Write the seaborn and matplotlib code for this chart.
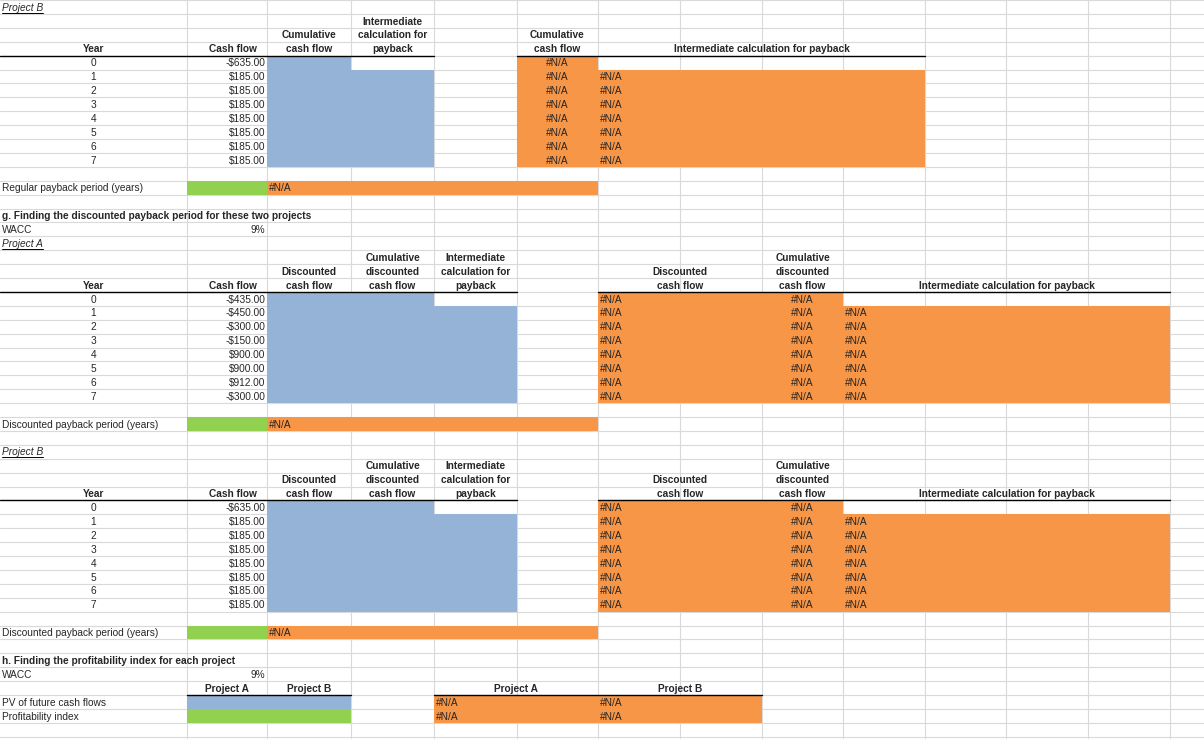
import matplotlib
matplotlib.use("Agg")
import matplotlib.pyplot as plt
from matplotlib.patches import Rectangle
import seaborn as sns

sns.set_theme(style="white")
plt.rcParams['font.family'] = ['Liberation Sans', 'DejaVu Sans']

years = [0, 1, 2, 3, 4, 5, 6, 7]
cf_b = ["-$635.00", "$185.00", "$185.00", "$185.00", "$185.00", "$185.00", "$185.00", "$185.00"]
cf_a = ["-$435.00", "-$450.00", "-$300.00", "-$150.00", "$900.00", "$900.00", "$912.00", "-$300.00"]
wacc = "9%"
na = "#N/A"

COLS = [0, 187, 267, 351, 434, 517, 598, 680, 762, 843, 925, 1006, 1088, 1170, 1204]
RH = 13.9
BLUE, ORANGE, GREEN = "#95B3D7", "#F79646", "#92D050"
FS = 7.3

fig = plt.figure(figsize=(12.04, 7.39), dpi=100)
ax = fig.add_axes([0, 0, 1, 1])
ax.set_xlim(0, 1204); ax.set_ylim(739, 0); ax.axis("off")

# grid
for x in COLS[1:-1]:
    ax.plot([x, x], [0, 739], color="#D9D9D9", lw=0.8, zorder=0)
r = 0
while r * RH < 739:
    ax.plot([0, 1204], [r * RH, r * RH], color="#D9D9D9", lw=0.8, zorder=0)
    r += 1

def fill(c0, c1, r0, r1, color):
    ax.add_patch(Rectangle((COLS[c0], r0 * RH), COLS[c1] - COLS[c0], (r1 - r0) * RH,
                           color=color, lw=0, zorder=1))

def txt(x, row, s, ha="left", bold=False, italic=False, underline=False):
    y = row * RH + RH * 0.55
    t = ax.text(x, y, s, ha=ha, va="center", fontsize=FS,
                fontweight="bold" if bold else "normal",
                fontstyle="italic" if italic else "normal", zorder=3)
    if underline:
        w = len(s) * 4.6
        ax.plot([x, x + w], [y + 5, y + 5], color="black", lw=0.7, zorder=3)

def cx(c0, c1):
    return (COLS[c0] + COLS[c1]) / 2

def hline(x0, x1, row):
    ax.plot([x0, x1], [row * RH, row * RH], color="black", lw=1.0, zorder=3)

def header(col0, col1, lines, lastrow):
    for i, s in enumerate(reversed(lines)):
        txt(cx(col0, col1), lastrow - i, s, ha="center", bold=True)

# ---- top Project B ----
txt(2, 0, "Project B", italic=True, underline=True)
header(0, 1, ["Year"], 3)
txt(COLS[2] - 10, 3, "Cash flow", ha="right", bold=True)
header(2, 3, ["Cumulative", "cash flow"], 3)
header(3, 4, ["Intermediate", "calculation for", "payback"], 3)
header(5, 6, ["Cumulative", "cash flow"], 3)
header(6, 10, ["Intermediate calculation for payback"], 3)
hline(0, COLS[4], 4); hline(COLS[5], COLS[10], 4)
fill(2, 3, 4, 5, BLUE); fill(2, 4, 5, 12, BLUE)
fill(5, 6, 4, 5, ORANGE); fill(5, 10, 5, 12, ORANGE)
for i, (y, v) in enumerate(zip(years, cf_b)):
    row = 4 + i
    txt(cx(0, 1), row, str(y), ha="center")
    txt(COLS[2] - 2, row, v, ha="right")
    txt(cx(5, 6), row, na, ha="center")
    if i > 0:
        txt(COLS[6] + 2, row, na)
txt(2, 13, "Regular payback period (years)")
fill(1, 2, 13, 14, GREEN); fill(2, 6, 13, 14, ORANGE)
txt(COLS[2] + 2, 13, na)

# ---- g ----
txt(2, 15, "g. Finding the discounted payback period for these two projects", bold=True)
txt(2, 16, "WACC")
txt(COLS[2] - 2, 16, wacc, ha="right")

def disc_section(title_row, cfs):
    txt(2, title_row, "Project " + ("A" if cfs is cf_a else "B"), italic=True, underline=True)
    hr = title_row + 3
    header(0, 1, ["Year"], hr)
    txt(COLS[2] - 10, hr, "Cash flow", ha="right", bold=True)
    header(2, 3, ["Discounted", "cash flow"], hr)
    header(3, 4, ["Cumulative", "discounted", "cash flow"], hr)
    header(4, 5, ["Intermediate", "calculation for", "payback"], hr)
    header(6, 8, ["Discounted", "cash flow"], hr)
    header(8, 9, ["Cumulative", "discounted", "cash flow"], hr)
    header(9, 13, ["Intermediate calculation for payback"], hr)
    hline(0, COLS[5], hr + 1); hline(COLS[6], COLS[13], hr + 1)
    r0 = hr + 1
    fill(2, 4, r0, r0 + 1, BLUE); fill(2, 5, r0 + 1, r0 + 8, BLUE)
    fill(6, 9, r0, r0 + 1, ORANGE); fill(6, 13, r0 + 1, r0 + 8, ORANGE)
    for i, (y, v) in enumerate(zip(years, cfs)):
        row = r0 + i
        txt(cx(0, 1), row, str(y), ha="center")
        txt(COLS[2] - 2, row, v, ha="right")
        txt(COLS[6] + 2, row, na)
        txt(cx(8, 9), row, na, ha="center")
        if i > 0:
            txt(COLS[9] + 2, row, na)
    pr = r0 + 9
    txt(2, pr, "Discounted payback period (years)")
    fill(1, 2, pr, pr + 1, GREEN); fill(2, 6, pr, pr + 1, ORANGE)
    txt(COLS[2] + 2, pr, na)

disc_section(17, cf_a)
disc_section(32, cf_b)

# ---- h ----
txt(2, 47, "h. Finding the profitability index for each project", bold=True)
txt(2, 48, "WACC")
txt(COLS[2] - 2, 48, wacc, ha="right")
txt(cx(1, 2), 49, "Project A", ha="center", bold=True)
txt(cx(2, 3), 49, "Project B", ha="center", bold=True)
txt(cx(4, 6), 49, "Project A", ha="center", bold=True)
txt(cx(6, 8), 49, "Project B", ha="center", bold=True)
hline(COLS[1], COLS[3], 50); hline(COLS[4], COLS[8], 50)
fill(1, 3, 50, 51, BLUE); fill(1, 3, 51, 52, GREEN)
fill(4, 8, 50, 52, ORANGE)
txt(2, 50, "PV of future cash flows")
txt(2, 51, "Profitability index")
for row in (50, 51):
    txt(COLS[4] + 2, row, na)
    txt(COLS[6] + 2, row, na)

fig.savefig("out.png", dpi=100)
